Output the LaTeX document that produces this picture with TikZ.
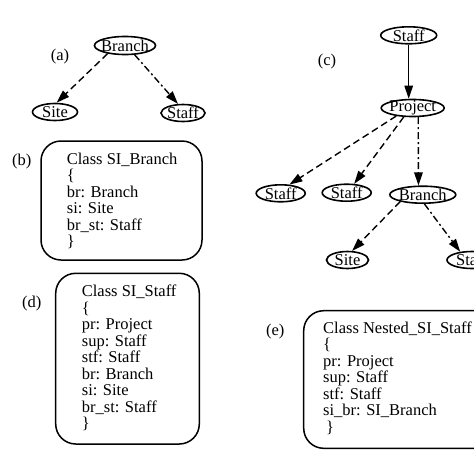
\documentclass[tikz,border=0pt]{standalone}
\usepackage{fontspec}
\setmainfont{Liberation Serif}
\usetikzlibrary{shapes.geometric,arrows.meta}

\tikzset{
	oval/.style={draw, ellipse, line width=1.6pt, minimum height=17, inner sep=0},
	link/.style={line width=1.4pt, -{Triangle[length=13pt,width=8.5pt]}},
	dashlink/.style={link, dash pattern=on 7pt off 4pt},
	dotlink/.style={link, dash pattern=on 7pt off 3pt on 2pt off 3pt},
	classbox/.style={draw, line width=1.5pt, rounded corners=20pt},
	classtext/.style={anchor=north west, inner sep=0, align=left}
}

\begin{document}
\begin{tikzpicture}[x=1pt, y=-1pt, font=\fontsize{16.5}{16.5}\selectfont]
			\useasboundingbox (0,0) rectangle (474,474);
			\clip (0,0) rectangle (474,474);
			% (a)
			\node (la) at (60,57) {(a)};
			\node[oval, minimum width=61, minimum height=18, label=center:Branch] (br) at (125,45.5) {};
			\node[oval, minimum width=45, label=center:Site] (si) at (55,112) {};
			\node[oval, minimum width=44, label=center:Staff] (st) at (183,113) {};
			\draw[dashlink] (br.205) -- (si.80);
			\draw[dotlink] (br.316) -- (st.119);
			% (b)
			\node (lb) at (21.7,161.7) {(b)};
			\draw[classbox] (41,141) rectangle (202,260);
			\node[classtext] (sibr) at (66.7,152.7)
				{Class SI\_Branch\\\{\\br: Branch\\si: Site\\br\_st: Staff\\\}};
			% (c)
			\node (lc) at (327,62) {(c)};
			\node[oval, minimum width=56, label=center:Staff] (stt) at (408.7,35.3) {};
			\node[oval, minimum width=63, label=center:Project] (pr) at (412.7,108) {};
			\node[oval, minimum width=49, label=center:Staff] (stl) at (280.7,193.3) {};
			\node[oval, minimum width=49, label=center:Staff] (stm) at (346.7,192.7) {};
			\node[oval, minimum width=66, label=center:Branch] (brc) at (422.8,194.7) {};
			\node[oval, minimum width=42, label=center:Site] (sic) at (347.5,260) {};
			\node[oval, minimum width=50, label=center:Staff] (stc) at (472,260) {};
			\draw[link] (stt.south) -- (stt.south |- pr.north);
			\draw[dashlink] (pr.206) -- (stl.45);
			\draw[dashlink] (pr.225) -- (stm.50);
			\draw[dotlink] (pr.301) -- (brc.115);
			\draw[dashlink] (brc.197) -- (sic.63);
			\draw[dotlink] (brc.280) -- (stc.145);
			% (d)
			\node (ld) at (31.7,303.3) {(d)};
			\draw[classbox] (55.7,273.3) rectangle (199.3,444);
			\node[classtext] (sist) at (81.7,284.7)
				{Class SI\_Staff\\\{\\pr: Project\\sup: Staff\\stf: Staff\\br: Branch\\si: Site\\br\_st: Staff\\\}};
			% (e)
			\node (le) at (275.3,331.7) {(e)};
			\draw[classbox] (303.7,310.7) rectangle (500,448.3);
			\node[classtext] (nest) at (323,321.4)
				{Class Nested\_SI\_Staff\\\{\\pr: Project\\sup: Staff\\stf: Staff\\si\_br: SI\_Branch\\\hspace{3pt}\}};
\end{tikzpicture}
\end{document}
